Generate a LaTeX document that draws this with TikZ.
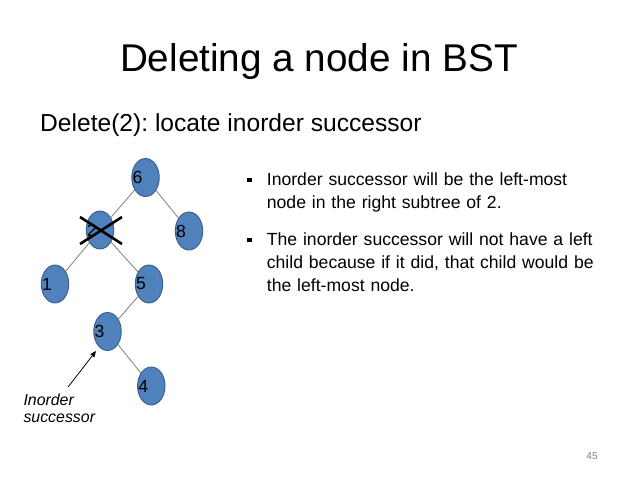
\documentclass[tikz,border=0pt]{standalone}
\usepackage{fontspec}
\setmainfont{Liberation Sans}
\usetikzlibrary{shapes.geometric,arrows.meta}
\definecolor{nodefill}{HTML}{4F81BD}
\definecolor{nodeline}{HTML}{385D8A}
\definecolor{edgegray}{HTML}{7F7F7F}
\frenchspacing

\begin{document}
\begin{tikzpicture}[x=1pt,y=-1pt,
    bstnode/.style={ellipse,draw=nodeline,fill=nodefill,line width=0.9pt,
        minimum width=27.5pt,minimum height=38pt,inner sep=0pt},
    keylabel/.style={font=\fontsize{17.6}{20}\selectfont,inner sep=0pt,xshift=-8pt},
    treeedge/.style={draw=edgegray,line width=0.8pt},
    bullettext/.style={anchor=base west,inner sep=0pt,text width=330pt,align=left,
        font=\fontsize{17.6}{23}\selectfont},
    bulletsq/.style={fill=black,inner sep=0pt,minimum size=4.4pt}]
    \useasboundingbox[fill=white] (0,0) rectangle (638,478);
    \node[anchor=base,inner sep=0pt] (title) at (319,71.7) {\fontsize{38.7}{44}\selectfont Deleting a node in BST};
    \node[anchor=base west,inner sep=0pt] (subtitle) at (40,131.7) {\fontsize{24.6}{28}\selectfont Delete(2): locate inorder successor};

    \node[bstnode,label={[keylabel]center:6}] (n6) at (145.5,177.5) {};
    \node[bstnode,label={[keylabel]center:2}] (n2) at (100,230) {};
    \node[bstnode,label={[keylabel]center:8}] (n8) at (189,231) {};
    \node[bstnode,label={[keylabel]center:1}] (n1) at (55,284) {};
    \node[bstnode,label={[keylabel]center:5}] (n5) at (149,284) {};
    \node[bstnode,label={[keylabel]center:3}] (n3) at (107.5,331.5) {};
    \node[bstnode,label={[keylabel]center:4}] (n4) at (151.3,386) {};
    \draw[treeedge] (n6) -- (n2);
    \draw[treeedge] (n6) -- (n8);
    \draw[treeedge] (n2) -- (n1);
    \draw[treeedge] (n2) -- (n5);
    \draw[treeedge] (n5) -- (n3);
    \draw[treeedge] (n3) -- (n4);

    \draw[line width=2.6pt] ([shift={(-20,-13)}]n2.center) -- ([shift={(22,14)}]n2.center);
    \draw[line width=2.6pt] ([shift={(-20,14)}]n2.center) -- ([shift={(22,-13)}]n2.center);

    \node[anchor=base west,inner sep=0pt,text width=100pt,align=left,font=\fontsize{15.9}{17}\selectfont\itshape] (succlabel) at (23.3,406) {Inorder\\successor};
    \coordinate (tail) at (68.3,386.7);
    \coordinate (tip) at (96,351);
    \draw[-{Triangle[length=6pt,width=5pt]},line width=0.8pt] (tail) -- (tip);

    \node[bulletsq] (sq1) at (249.5,180) {};
    \node[bullettext] (b1) at (266.7,186) {Inorder successor will be the left-most\\node in the right subtree of 2.};
    \node[bulletsq] (sq2) at (249.5,240) {};
    \node[bullettext] (b2) at (266.7,246) {The inorder successor will not have a left\\child because if it did, that child would be\\the left-most node.};

    \node[text=gray,inner sep=0pt,font=\fontsize{10}{12}\selectfont] (pagenum) at (592,456) {45};
\end{tikzpicture}
\end{document}
